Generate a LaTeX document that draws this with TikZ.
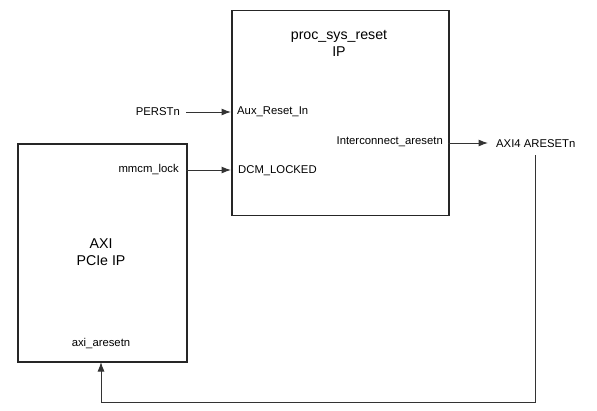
\documentclass[tikz,border=0pt]{standalone}
\usepackage{fontspec}
\setmainfont{Liberation Sans}
\usetikzlibrary{arrows.meta}
\begin{document}
\begin{tikzpicture}[x=1pt,y=-1pt,
  blk/.style={draw=black!85,line width=1.6pt,fill=none},
  lbl/.style={font=\fontsize{11.3}{13}\selectfont,inner sep=0pt},
  big/.style={font=\fontsize{14.2}{17}\selectfont,align=center,inner sep=0pt},
  conn/.style={draw=black!80,line width=1pt,-{Latex[length=9.5pt,width=7pt]}},
  wire/.style={draw=black!80,line width=1pt}]
\useasboundingbox (0,0) rectangle (597,410);
% blocks
\node[blk,minimum width=217pt,minimum height=205pt,anchor=north west] (proc) at (231,9.5) {};
\node[blk,minimum width=169pt,minimum height=218pt,anchor=north west] (axi) at (17,143) {};
\node[big] (proct) at (339,43) {proc\_sys\_reset\\IP};
\node[big] (axit) at (101,252) {AXI\\PCIe IP};
% labels
\node[lbl,anchor=east] (perst) at (180,112) {PERSTn};
\node[lbl,anchor=west] (aux) at (237,112) {Aux\_Reset\_In};
\node[lbl,anchor=east] (mmcm) at (179,170) {mmcm\_lock};
\node[lbl,anchor=west] (dcm) at (238,171) {DCM\_LOCKED};
\node[lbl,anchor=east] (ic) at (443,142) {Interconnect\_aresetn};
\node[lbl,anchor=west] (axi4) at (496,144) {AXI4 ARESETn};
\node[lbl] (ares) at (101,344) {axi\_aresetn};
% connectors
\coordinate (c1) at (186,112);
\coordinate (c2) at (186,170);
\coordinate (c3) at (448,143);
\coordinate (c4) at (535,155);
\coordinate (c5) at (535,402);
\coordinate (c6) at (101,402);
\coordinate (c7) at (101,362);
\draw[conn] (c1) -- (231,112);
\draw[conn] (c2) -- (231,170);
\draw[conn] (c3) -- (488,143);
\draw[conn] (c4) -- (c5) -- (c6) -- (c7);
\end{tikzpicture}
\end{document}
